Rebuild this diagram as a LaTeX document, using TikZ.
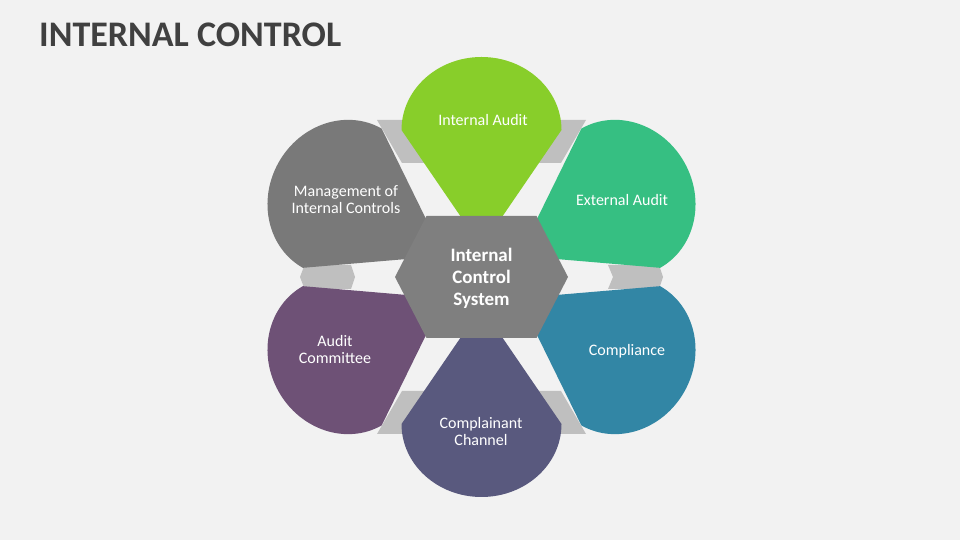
\documentclass[tikz,border=0pt]{standalone}
\usepackage{fontspec}
\setmainfont{Carlito}
\definecolor{bgc}{HTML}{F2F2F2}
\definecolor{titlec}{HTML}{404040}
\definecolor{linkc}{HTML}{BFBFBF}
\definecolor{hexc}{HTML}{7F7F7F}
\definecolor{cIA}{HTML}{88CE2A}
\definecolor{cEA}{HTML}{36BF82}
\definecolor{cCO}{HTML}{3286A5}
\definecolor{cCC}{HTML}{59597E}
\definecolor{cAC}{HTML}{6E5176}
\definecolor{cMI}{HTML}{797979}
\newcommand{\petalshape}[3]{%
  \fill[#3, shift={(481.5,263)}, rotate=#1]
    (0,{#2-117}) -- (80,#2) arc[start angle=0, end angle=180, x radius=80, y radius=73] -- cycle;}
\tikzset{
  lbl/.style={text=white, align=center, font=\fontsize{16}{17}\selectfont},
  ctr/.style={text=white, align=center, font=\bfseries\fontsize{19}{22}\selectfont},
  link/.style={fill=linkc}
}
\begin{document}
\begin{tikzpicture}[x=1pt,y=1pt]
\fill[bgc] (0,0) rectangle (960,540);
\useasboundingbox (0,0) rectangle (960,540);
% title
\node[anchor=base west, inner sep=0, text=titlec, font=\bfseries\fontsize{36}{38}\selectfont] (title) at (39,493.5) {INTERNAL CONTROL};
% grey link pieces
\fill[link] (377,420) -- (415,420) -- (440,377) -- (402,377) -- cycle;
\fill[link] (586,420) -- (548,420) -- (523,377) -- (561,377) -- cycle;
\fill[link] (377,106) -- (415,106) -- (440,149) -- (402,149) -- cycle;
\fill[link] (586,106) -- (548,106) -- (523,149) -- (561,149) -- cycle;
\fill[link] (300,263) -- (304.5,275) -- (351,275) -- (355,263) -- (351,251) -- (304.5,251) -- cycle;
\fill[link] (663,263) -- (659,275) -- (608,275) -- (613,263) -- (608,251) -- (659,251) -- cycle;
% petals
\petalshape{0}{147}{cIA}
\petalshape{-60.5}{160}{cEA}
\petalshape{-119.5}{160}{cCO}
\petalshape{180}{147}{cCC}
\petalshape{119.5}{160}{cAC}
\petalshape{60.5}{160}{cMI}
% center hexagon
\fill[hexc] (395,263) -- (426.5,324) -- (536.5,324) -- (568,263) -- (536.5,202) -- (426.5,202) -- cycle;
% labels
\node[lbl] (ia) at (483,420) {Internal Audit};
\node[lbl] (ea) at (622,340) {External Audit};
\node[lbl] (co) at (627,189) {Compliance};
\node[lbl] (cc) at (481,108) {Complainant\\Channel};
\node[lbl] (ac) at (335,190) {Audit\\Committee};
\node[lbl] (mi) at (346,340) {Management of\\Internal Controls};
\node[ctr] (ics) at (481.5,262) {Internal\\Control\\System};
\end{tikzpicture}
\end{document}
